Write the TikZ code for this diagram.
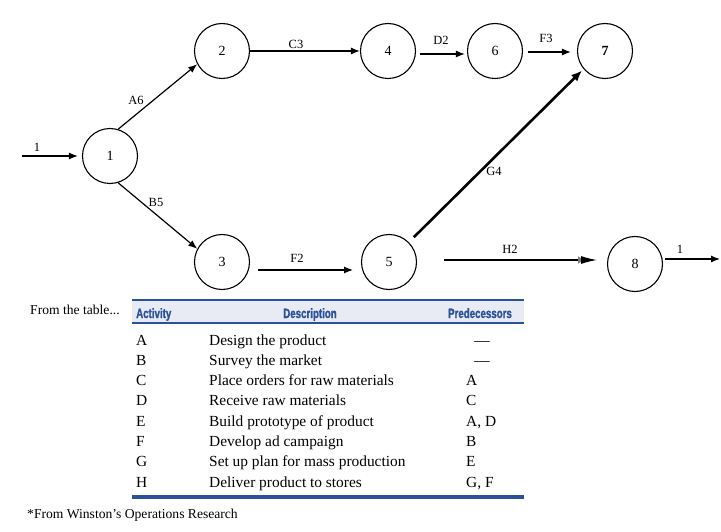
\documentclass[tikz,border=0pt]{standalone}
\usepackage{fontspec}
\setmainfont{Liberation Serif}
\newfontfamily\hdrfont[FakeStretch=0.72,FakeBold=1.2]{Liberation Sans}
\usetikzlibrary{arrows.meta,calc}
\definecolor{tblue}{HTML}{2B519B}
\definecolor{hband}{HTML}{E8EBF4}
\begin{document}
\begin{tikzpicture}[x=1pt,y=-1pt,
  circ/.style={circle,draw,line width=1.1pt,minimum size=55pt,inner sep=0pt,font=\fontsize{14}{16}\selectfont},
  arr/.style={line width=1.2pt,-{Latex[length=9pt,width=7pt]}},
  lbl/.style={font=\fontsize{12.5}{14}\selectfont,inner sep=0pt},
  cell/.style={anchor=base west,inner sep=0pt,font=\fontsize{15.4}{17}\selectfont},
  hdr/.style={anchor=base,inner sep=0pt,text=tblue,font=\hdrfont\bfseries\fontsize{13.5}{15}\selectfont},
  note/.style={anchor=base west,inner sep=0pt,font=\fontsize{13.6}{15}\selectfont}]
\useasboundingbox (0,0) rectangle (721,532);
% nodes
\node[circ] (n1) at (110,156) {1};
\node[circ] (n2) at (222,51) {2};
\node[circ] (n3) at (222,262) {3};
\node[circ] (n4) at (388,51) {4};
\node[circ] (n6) at (495,51) {6};
\node[circ] (n7) at (605,51) {\textbf{7}};
\node[circ] (n5) at (389,262) {5};
\node[circ] (n8) at (635,264) {8};
% free coordinates
\coordinate (in) at (22,156);
\coordinate (f2s) at (258,270);
\coordinate (f2e) at (353,270);
\coordinate (h2s) at (444,260);
\coordinate (h2e) at (597,260);
\coordinate (outs) at (665,259);
\coordinate (oute) at (720,259);
% connectors
\draw[arr,shorten >=4pt] (in) -- (n1.west);
\draw[arr] (n1.73) -- (n2.208);
\draw[arr] (n1.287) -- (n3.152);
\draw[arr] (n2.east) -- (n4.west);
\draw[arr] (f2s) -- (f2e);
\draw[arr] ([xshift=4pt,yshift=-3pt]n4.east) -- ([xshift=-2pt,yshift=-3pt]n6.west);
\draw[arr] ([xshift=5pt,yshift=-1pt]n6.east) -- ([xshift=-6pt,yshift=-1pt]n7.west);
\draw[line width=2.6pt,-{Latex[length=11pt,width=9pt]},shorten <=7pt,shorten >=2pt] (n5.45) -- (n7.220);
\draw[line width=1.2pt,-{Latex[length=7pt,width=8pt,gray,sep=-4pt]Latex[length=16pt,width=8pt]}] (h2s) -- (h2e);
\draw[arr] (outs) -- (oute);
% labels
\node[lbl] (l0) at (37,147) {1};
\node[lbl] (la) at (136,100) {A6};
\node[lbl] (lb) at (156,202) {B5};
\node[lbl] (lc) at (296,44) {C3};
\node[lbl] (lf) at (297,258) {F2};
\node[lbl] (ld) at (441,40) {D2};
\node[lbl] (lf3) at (546,38) {F3};
\node[lbl] (lg) at (494,171) {G4};
\node[lbl] (lh) at (510,249) {H2};
\node[lbl] (l1) at (680,249) {1};
% table
\fill[hband] (132,300) rectangle (524,322);
\draw[tblue,line width=2pt] (132,299.5) -- (524,299.5);
\draw[tblue,line width=2pt] (132,322.5) -- (524,322.5);
\draw[tblue,line width=4pt] (132,497) -- (524,497);
\node[note] (ft) at (30,314) {From the table...};
\node[hdr,anchor=base west] (h1) at (136,318) {Activity};
\node[hdr] (h2) at (310,318) {Description};
\node[hdr] (h3) at (480,318) {Predecessors};
\foreach \y/\a/\d/\p in {345/A/Design the product/,365.3/B/Survey the market/,385.6/C/Place orders for raw materials/A,405.9/D/Receive raw materials/C,426.2/E/Build prototype of product/{A, D},446.5/F/Develop ad campaign/B,466.8/G/Set up plan for mass production/E,487.1/H/Deliver product to stores/{G, F}}{
  \node[cell] at (136,\y) {\a};
  \node[cell] at (209,\y) {\d};
  \node[cell] at (466,\y) {\p};
}
\node[cell,anchor=base] (da) at (482,345) {---};
\node[cell,anchor=base] (db) at (482,365.3) {---};
\node[note] (fn) at (27,518) {*From Winston's Operations Research};
\end{tikzpicture}
\end{document}
